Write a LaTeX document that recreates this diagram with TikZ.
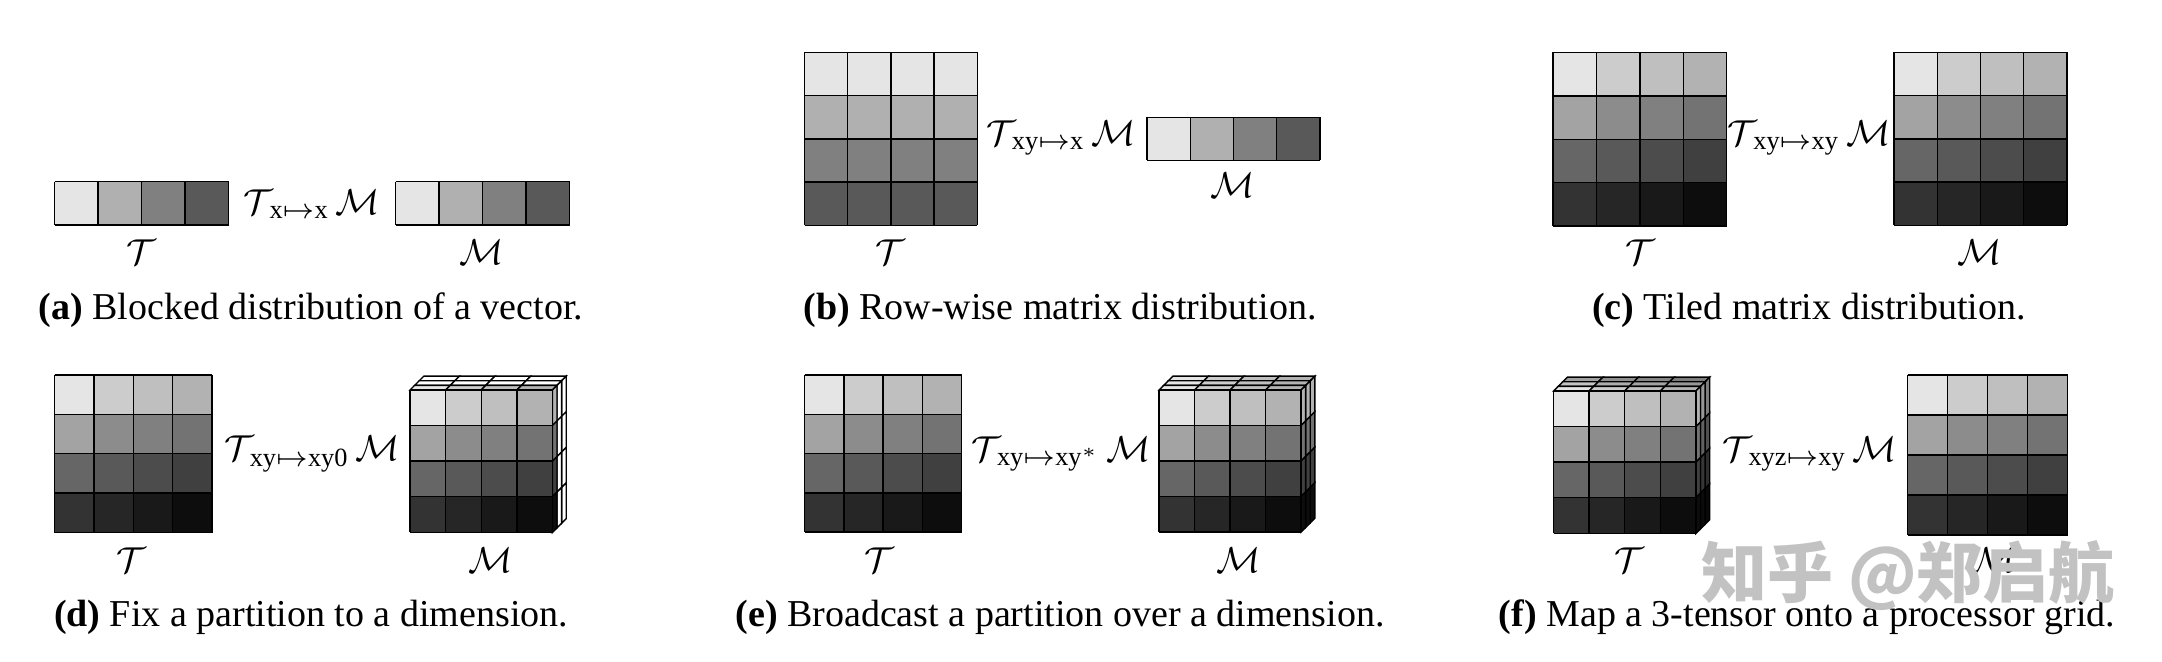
\documentclass[tikz,border=0pt]{standalone}
\usepackage{fontspec}
\setmainfont{Liberation Serif}
\newfontfamily\cjk{Noto Sans CJK SC}
\definecolor{v0}{gray}{0.90}
\definecolor{v1}{gray}{0.69}
\definecolor{v2}{gray}{0.50}
\definecolor{v3}{gray}{0.35}
\definecolor{t00}{gray}{0.90}\definecolor{t01}{gray}{0.80}\definecolor{t02}{gray}{0.75}\definecolor{t03}{gray}{0.70}
\definecolor{t10}{gray}{0.64}\definecolor{t11}{gray}{0.55}\definecolor{t12}{gray}{0.50}\definecolor{t13}{gray}{0.45}
\definecolor{t20}{gray}{0.40}\definecolor{t21}{gray}{0.35}\definecolor{t22}{gray}{0.30}\definecolor{t23}{gray}{0.25}
\definecolor{t30}{gray}{0.20}\definecolor{t31}{gray}{0.15}\definecolor{t32}{gray}{0.10}\definecolor{t33}{gray}{0.05}
\tikzset{
  gl/.style={draw=black, line width=0.35pt},
  lab/.style={inner sep=0pt, font=\fontsize{9.4}{11}\selectfont},
  captext/.style={inner sep=0pt, anchor=base, font=\fontsize{9.5}{11}\selectfont},
}
% #1 x0, #2 y0, #3 cell, #4 cols, #5 rows, #6 colour expression
\newcommand\cellgrid[6]{%
  \pgfmathtruncatemacro\lastc{#4-1}%
  \pgfmathtruncatemacro\lastr{#5-1}%
  \foreach \r in {0,...,\lastr}{\foreach \c in {0,...,\lastc}{%
    \edef\cname{#6}%
    \fill[fill=\cname] ({#1+\c*#3},{#2+\r*#3}) rectangle ++(#3,#3);}}%
  \foreach \c in {0,...,#4}{\draw[gl] ({#1+\c*#3},#2) -- ++(0,{#5*#3});}%
  \foreach \r in {0,...,#5}{\draw[gl] (#1,{#2+\r*#3}) -- ++({#4*#3},0);}%
}
% #1 x0, #2 y0 (front top-left), #3 cell, #4 layer offset, #5 mode (0 fixed,1 broadcast,2 tensor)
\newcommand\cubegrid[5]{%
  \foreach \k in {2,1,0}{%
    \foreach \c in {0,...,3}{%
      \edef\base{t0\c}%
      \ifcase#5\relax
        \ifnum\k=0 \edef\fc{\base}\else\def\fc{white}\fi
      \or \edef\fc{\base}%
      \or \pgfmathtruncatemacro\pct{100-15*\k}\edef\fc{\base!\pct!black}%
      \fi
      \filldraw[gl, fill=\fc] ({#1+\c*#3+\k*#4},{#2-\k*#4}) -- ++(#3,0) -- ++(#4,-#4) -- ++(-#3,0) -- cycle;}%
    \foreach \r in {0,...,3}{%
      \edef\base{t\r3}%
      \ifcase#5\relax
        \ifnum\k=0 \edef\fc{\base}\else\def\fc{white}\fi
      \or \edef\fc{\base}%
      \or \pgfmathtruncatemacro\pct{100-15*\k}\edef\fc{\base!\pct!black}%
      \fi
      \filldraw[gl, fill=\fc] ({#1+4*#3+\k*#4},{#2+\r*#3-\k*#4}) -- ++(#4,-#4) -- ++(0,#3) -- ++(-#4,#4) -- cycle;}%
  }%
  \cellgrid{#1}{#2}{#3}{4}{4}{t\r\c}%
}
\newcommand\mapl[2]{$\mathcal{T}_{\,\mathrm{#1}\mapsto\mathrm{#2}}\,\mathcal{M}$}
\begin{document}
\begin{tikzpicture}[x=0.25pt, y=-0.25pt]
\useasboundingbox (0,0) rectangle (2162,662);
% ---------- (a)
\cellgrid{54.5}{181.7}{43.5}{4}{1}{v\c}
\cellgrid{395.5}{181.7}{43.5}{4}{1}{v\c}
\node[lab] (aT) at (141,252) {$\mathcal{T}$};
\node[lab] (aM) at (482,252) {$\mathcal{M}$};
\node[lab] (amap) at (312,204) {\mapl{x}{x}};
\node[captext] (acap) at (311,320) {\textbf{(a)} Blocked distribution of a vector.};
% ---------- (b)
\cellgrid{804.5}{52.5}{43.2}{4}{4}{v\r}
\cellgrid{1147}{117.3}{43.2}{4}{1}{v\c}
\node[lab] (bT) at (890.7,252) {$\mathcal{T}$};
\node[lab] (bM) at (1233,185) {$\mathcal{M}$};
\node[lab] (bmap) at (1061,138) {\mapl{xy}{x}};
\node[captext] (bcap) at (1060,320) {\textbf{(b)} Row-wise matrix distribution.};
% ---------- (c)
\cellgrid{1553}{52.5}{43.4}{4}{4}{t\r\c}
\cellgrid{1894}{52.5}{43.2}{4}{4}{t\r\c}
\node[lab] (cT) at (1640,252) {$\mathcal{T}$};
\node[lab] (cM) at (1980,252) {$\mathcal{M}$};
\node[lab] (cmap) at (1809,138) {\mapl{xy}{xy}};
\node[captext] (ccap) at (1809,320) {\textbf{(c)} Tiled matrix distribution.};
% ---------- (d)
\cellgrid{54.5}{375}{39.4}{4}{4}{t\r\c}
\cubegrid{410}{390}{35.6}{4.6}{0}
\node[lab] (dT) at (131,560) {$\mathcal{T}$};
\node[lab] (dM) at (491,560) {$\mathcal{M}$};
\node[lab] (dmap) at (312,454) {\mapl{xy}{xy0}};
\node[captext] (dcap) at (311,626.7) {\textbf{(d)} Fix a partition to a dimension.};
% ---------- (e)
\cellgrid{804.5}{375}{39.3}{4}{4}{t\r\c}
\cubegrid{1159}{390}{35.5}{4.6}{1}
\node[lab] (eT) at (879,560) {$\mathcal{T}$};
\node[lab] (eM) at (1239,560) {$\mathcal{M}$};
\node[lab] (emap) at (1061,454) {\mapl{xy}{xy^{*}}};
\node[captext] (ecap) at (1060,626.7) {\textbf{(e)} Broadcast a partition over a dimension.};
% ---------- (f)
\cubegrid{1553.5}{391}{35.6}{4.6}{2}
\cellgrid{1907.5}{375}{40}{4}{4}{t\r\c}
\node[lab] (fT) at (1629,560) {$\mathcal{T}$};
\node[lab] (fM) at (1994,560) {$\mathcal{M}$};
\node[lab] (fmap) at (1810,454) {\mapl{xyz}{xy}};
\node[captext] (fcap) at (1807,626.7) {\textbf{(f)} Map a 3-tensor onto a processor grid.};
% watermark
\node[inner sep=0pt, text=black!24, font=\cjk\bfseries\fontsize{16.5}{18}\selectfont] (wm) at (1908,576) {知乎 @郑启航};
\end{tikzpicture}
\end{document}
